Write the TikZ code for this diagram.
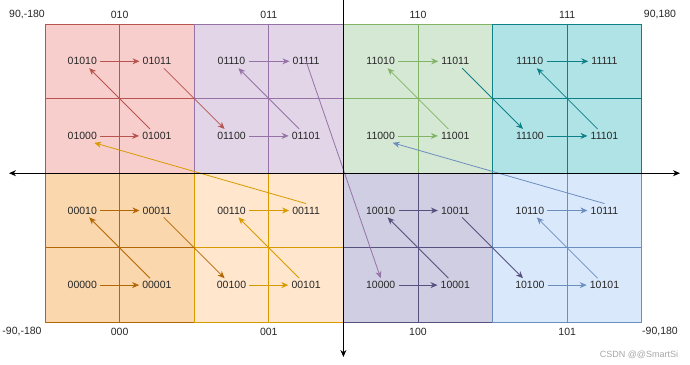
\documentclass[tikz,border=0pt]{standalone}
\usepackage{fontspec}
\setmainfont{Liberation Sans}
\usetikzlibrary{arrows.meta}
\definecolor{redfill}{HTML}{F8CECC}\definecolor{redline}{HTML}{B85450}
\definecolor{lilacfill}{HTML}{E1D5E7}\definecolor{lilacline}{HTML}{9673A6}
\definecolor{greenfill}{HTML}{D5E8D4}\definecolor{greenline}{HTML}{82B366}
\definecolor{tealfill}{HTML}{B0E3E6}\definecolor{tealline}{HTML}{0E8088}
\definecolor{ochrefill}{HTML}{FAD7AC}\definecolor{ochreline}{HTML}{B46504}
\definecolor{peachfill}{HTML}{FFE6CC}\definecolor{peachline}{HTML}{D79B00}
\definecolor{slatefill}{HTML}{D0CEE2}\definecolor{slateline}{HTML}{56517E}
\definecolor{bluefill}{HTML}{DAE8FC}\definecolor{blueline}{HTML}{6C8EBF}
\def\cell{74.6}
% one block: corner x, corner y, prefix, fill, line colour
\newcommand{\geoblock}[5]{%
  \foreach \i/\j in {0/0,1/0,0/1,1/1}
    \draw[cellbox, fill=#4, draw=#5] ({#1+\i*\cell},{#2+\j*\cell}) rectangle ++(\cell,\cell);
  \node[code] (#300) at ({#1+0.5*\cell},{#2+1.5*\cell}) {#300};
  \node[code] (#301) at ({#1+1.5*\cell},{#2+1.5*\cell}) {#301};
  \node[code] (#310) at ({#1+0.5*\cell},{#2+0.5*\cell}) {#310};
  \node[code] (#311) at ({#1+1.5*\cell},{#2+0.5*\cell}) {#311};
  \draw[seq, color=#5] (#300) -- (#301);
  \draw[seq, color=#5] (#301) -- (#310);
  \draw[seq, color=#5] (#310) -- (#311);
}

\begin{document}
\begin{tikzpicture}[x=1pt, y=-1pt,
    code/.style={font=\fontsize{10.5}{12}\selectfont, inner sep=3pt, text=black!85},
    corner/.style={font=\fontsize{10.5}{12}\selectfont, text=black!85},
    cellbox/.style={line width=0.8pt},
    seq/.style={-{Stealth[length=7pt,width=6pt]}, line width=0.8pt},
    axis/.style={line width=0.9pt, black}]
	\useasboundingbox (0,0) rectangle (690,364);
	
	%%% blocks
	\geoblock{45}{24}{010}{redfill}{redline}
	\geoblock{194.2}{24}{011}{lilacfill}{lilacline}
	\geoblock{343.4}{24}{110}{greenfill}{greenline}
	\geoblock{492.6}{24}{111}{tealfill}{tealline}
	\geoblock{45}{173.2}{000}{ochrefill}{ochreline}
	\geoblock{194.2}{173.2}{001}{peachfill}{peachline}
	\geoblock{343.4}{173.2}{100}{slatefill}{slateline}
	\geoblock{492.6}{173.2}{101}{bluefill}{blueline}
	
	%%% links between blocks
	\draw[seq, color=ochreline] (00011) -- (00100);
	\draw[seq, color=peachline] (00111.north) -- (01000.-30);
	\draw[seq, color=redline] (01011) -- (01100);
	\draw[seq, color=lilacline] (01111.center) -- (10000.north);
	\draw[seq, color=slateline] (10011) -- (10100);
	\draw[seq, color=blueline] (10111.north) -- (11000.-30);
	\draw[seq, color=tealline] (11011) -- (11100);
	
	%%% axes
	\coordinate (axisW) at (9,173.2);
	\coordinate (axisE) at (680,173.2);
	\coordinate (axisN) at (343.4,0);
	\coordinate (axisS) at (343.4,357);
	\draw[axis, {Stealth[length=7pt,width=6pt]}-{Stealth[length=7pt,width=6pt]}] (axisW) -- (axisE);
	\draw[axis, -{Stealth[length=7pt,width=6pt]}] (axisN) -- (axisS);
	
	%%% labels
	\node[corner] (nw) at (27,15) {90,-180};
	\node[corner] (ne) at (660,15) {90,180};
	\node[corner] (sw) at (22,331.7) {-90,-180};
	\node[corner] (se) at (660,331.7) {-90,180};
	\node[corner] (top010) at (119.6,15) {010};
	\node[corner] (top011) at (268.8,15) {011};
	\node[corner] (top110) at (418,15) {110};
	\node[corner] (top111) at (567.2,15) {111};
	\node[corner] (bot000) at (119.6,331.7) {000};
	\node[corner] (bot001) at (268.8,331.7) {001};
	\node[corner] (bot100) at (418,331.7) {100};
	\node[corner] (bot101) at (567.2,331.7) {101};
	\node[font=\fontsize{9}{11}\selectfont, text=black!35] (mark) at (639,355) {CSDN @@SmartSi};
\end{tikzpicture}
\end{document}
